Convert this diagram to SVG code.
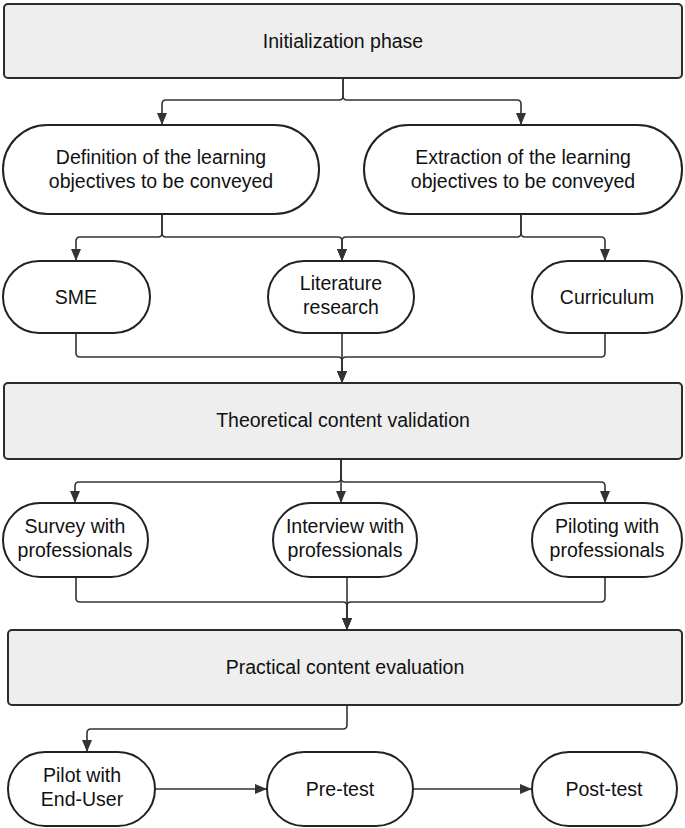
<svg xmlns="http://www.w3.org/2000/svg" width="685" height="828" viewBox="0 0 685 828">
<defs>
<marker id="arr" viewBox="0 0 12 10" markerWidth="12" markerHeight="10" refX="12" refY="5" orient="auto" markerUnits="userSpaceOnUse">
<path d="M0,0 L12,5 L0,10 z" fill="#333"/>
</marker>
<style>
.box{fill:#eeeeee;stroke:#2b2b2b;stroke-width:2}
.pill{fill:#ffffff;stroke:#222;stroke-width:2}
.t{font-family:"Liberation Sans",Arial,sans-serif;font-size:19.5px;fill:#111;text-anchor:middle}
.c{fill:none;stroke:#333;stroke-width:1.6}
.ca{fill:none;stroke:#333;stroke-width:1.6;marker-end:url(#arr)}
</style>
</defs>
<rect width="685" height="828" fill="#ffffff"/>
<g id="connectors">
<path class="ca" d="M343,78 V96 Q343,100 339,100 H166 Q162,100 162,104 V125"/>
<path class="ca" d="M343,78 V96 Q343,100 347,100 H517 Q521,100 521,104 V125"/>
<path class="ca" d="M162,214 V233 Q162,237 158,237 H80 Q76,237 76,241 V261"/>
<path class="ca" d="M162,214 V233 Q162,237 166,237 H338 Q342,237 342,241 V261"/>
<path class="ca" d="M521,214 V233 Q521,237 517,237 H346 Q342,237 342,241 V261"/>
<path class="ca" d="M521,214 V233 Q521,237 525,237 H601 Q605,237 605,241 V261"/>
<path class="ca" d="M76,333 V353 Q76,357 80,357 H338 Q342,357 342,361 V383"/>
<path class="ca" d="M342,333 V383"/>
<path class="ca" d="M605,333 V353 Q605,357 601,357 H346 Q342,357 342,361 V383"/>
<path class="ca" d="M341,459 V478 Q341,482 337,482 H79 Q75,482 75,486 V503"/>
<path class="ca" d="M341,459 V503"/>
<path class="ca" d="M341,459 V478 Q341,482 345,482 H601 Q605,482 605,486 V503"/>
<path class="ca" d="M76,577 V598 Q76,602 80,602 H343 Q347,602 347,606 V630"/>
<path class="ca" d="M347,577 V630"/>
<path class="ca" d="M605,577 V598 Q605,602 601,602 H351 Q347,602 347,606 V630"/>
<path class="ca" d="M347,705 V725 Q347,729 343,729 H91 Q87,729 87,733 V752"/>
<path class="ca" d="M155,789 H267"/>
<path class="ca" d="M413,789 H532"/>
</g>
<g id="n-init">
<rect class="box" x="4" y="4" width="678" height="74" rx="4"/>
<text class="t" x="343" y="48">Initialization phase</text>
</g>
<g id="n-definition">
<rect class="pill" x="3" y="125" width="316" height="89" rx="44.5"/>
<text class="t" x="161" y="164">Definition of the learning</text>
<text class="t" x="161" y="188">objectives to be conveyed</text>
</g>
<g id="n-extraction">
<rect class="pill" x="364" y="125" width="318" height="89" rx="44.5"/>
<text class="t" x="523" y="164">Extraction of the learning</text>
<text class="t" x="523" y="188">objectives to be conveyed</text>
</g>
<g id="n-sme">
<rect class="pill" x="3" y="261" width="147" height="72" rx="36"/>
<text class="t" x="76" y="304">SME</text>
</g>
<g id="n-literature">
<rect class="pill" x="268" y="261" width="146" height="72" rx="36"/>
<text class="t" x="341" y="290">Literature</text>
<text class="t" x="341" y="314">research</text>
</g>
<g id="n-curriculum">
<rect class="pill" x="532" y="261" width="150" height="72" rx="36"/>
<text class="t" x="607" y="304">Curriculum</text>
</g>
<g id="n-theoretical">
<rect class="box" x="4" y="383" width="678" height="76" rx="4"/>
<text class="t" x="343" y="427">Theoretical content validation</text>
</g>
<g id="n-survey">
<rect class="pill" x="3" y="503" width="145" height="74" rx="37"/>
<text class="t" x="75" y="533">Survey with</text>
<text class="t" x="75" y="557">professionals</text>
</g>
<g id="n-interview">
<rect class="pill" x="273" y="503" width="144" height="74" rx="37"/>
<text class="t" x="345" y="533">Interview with</text>
<text class="t" x="345" y="557">professionals</text>
</g>
<g id="n-piloting">
<rect class="pill" x="532" y="503" width="150" height="74" rx="37"/>
<text class="t" x="607" y="533">Piloting with</text>
<text class="t" x="607" y="557">professionals</text>
</g>
<g id="n-practical">
<rect class="box" x="8" y="630" width="674" height="75" rx="4"/>
<text class="t" x="345" y="674">Practical content evaluation</text>
</g>
<g id="n-pilot">
<rect class="pill" x="8" y="752" width="147" height="74" rx="37"/>
<text class="t" x="82" y="782">Pilot with</text>
<text class="t" x="82" y="806">End-User</text>
</g>
<g id="n-pretest">
<rect class="pill" x="267" y="752" width="146" height="74" rx="37"/>
<text class="t" x="340" y="796">Pre-test</text>
</g>
<g id="n-posttest">
<rect class="pill" x="532" y="752" width="145" height="74" rx="37"/>
<text class="t" x="604" y="796">Post-test</text>
</g>
</svg>
